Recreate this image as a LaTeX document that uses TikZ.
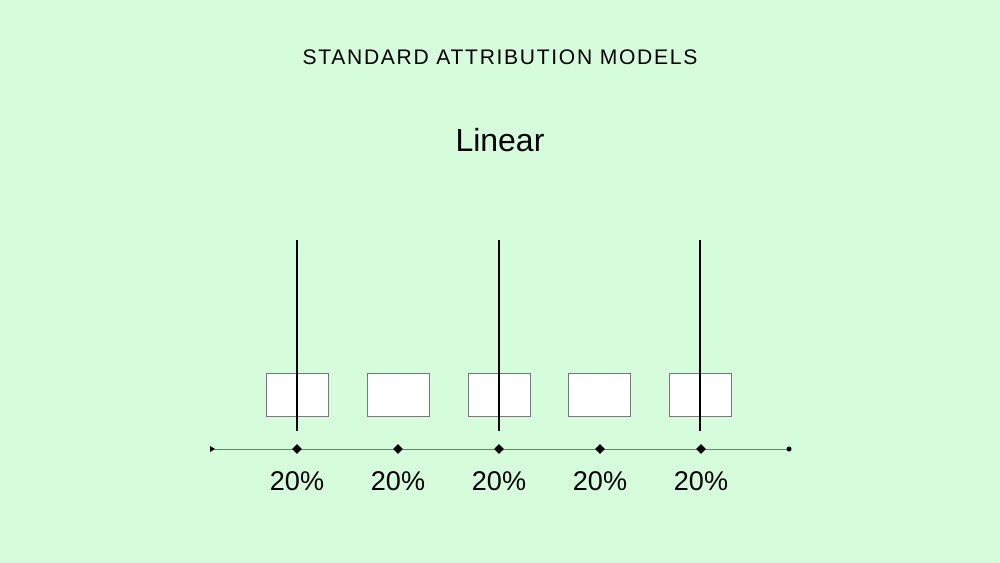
\documentclass[tikz,border=0pt]{standalone}
\usepackage{fontspec}
\setmainfont{Liberation Sans}
\newfontfamily\titlefont[LetterSpace=8]{Liberation Sans}
\usepackage{xcolor}
\usetikzlibrary{shapes.geometric}
\definecolor{mintbg}{RGB}{214,253,219}
\definecolor{linegray}{RGB}{120,120,120}

\begin{document}
\begin{tikzpicture}[
    x=0.02cm, y=-0.02cm,
    touch/.style={draw=linegray, line width=0.5pt, fill=white, minimum width=1.24cm, minimum height=0.86cm, inner sep=0pt},
    tick/.style={diamond, fill=black, inner sep=0pt, minimum size=0.2cm},
    pct/.style={font=\fontsize{15.4}{18}\selectfont, inner sep=0pt},
    axis/.style={draw=linegray, line width=0.5pt},
    credit/.style={draw=black, line width=0.6pt}
]
\fill[mintbg] (0,0) rectangle (1000,563);
\useasboundingbox (0,0) rectangle (1000,563);

\node[font=\titlefont\fontsize{12}{14}\selectfont] (title) at (500,57) {STANDARD ATTRIBUTION MODELS};
\node[font=\fontsize{18.2}{22}\selectfont] (model) at (500,140) {Linear};

% touchpoints
\node[touch] (b1) at (297,394.5) {};
\node[touch] (b2) at (398,394.5) {};
\node[touch] (b3) at (499,394.5) {};
\node[touch] (b4) at (599,394.5) {};
\node[touch] (b5) at (700,394.5) {};

% timeline
\coordinate (tstart) at (210,449);
\coordinate (tend) at (789,449);
\draw[axis] (tstart) -- (tend);
\fill[black] (tstart) ++(0,-3) -- ++(5,3) -- ++(-5,3) -- cycle;
\fill[black] (tend) circle (2.5);
\foreach \i/\x in {1/297, 2/398, 3/499, 4/600, 5/701} {
    \node[tick] (d\i) at (\x,449) {};
    \node[pct] (p\i) at (\x,481) {20\%};
}

% credit lines
\coordinate (v1) at (297,240);
\coordinate (v3) at (499,240);
\coordinate (v5) at (700,240);
\draw[credit] (v1) -- ([yshift=-0.3cm]b1.south);
\draw[credit] (v3) -- ([yshift=-0.3cm]b3.south);
\draw[credit] (v5) -- ([yshift=-0.3cm]b5.south);
\end{tikzpicture}
\end{document}
